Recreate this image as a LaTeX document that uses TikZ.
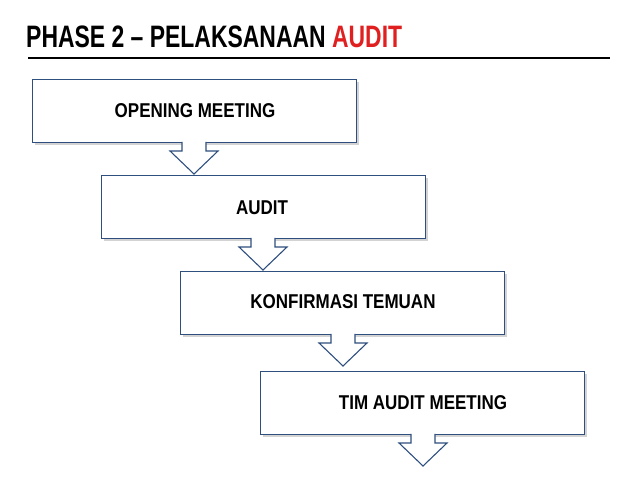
\documentclass[tikz,border=0pt]{standalone}
\usepackage{fontspec}
\setmainfont{Liberation Sans}
\usetikzlibrary{shadows}
\definecolor{bord}{HTML}{2F4F7F}
\definecolor{titred}{HTML}{E02020}
\tikzset{
 stepbox/.style={draw=bord, line width=1.3pt, fill=white, minimum width=324pt, minimum height=63pt, anchor=north west, drop shadow={shadow xshift=2pt, shadow yshift=-2pt, opacity=0.35}},
 boxtext/.style={font=\bfseries\fontsize{20}{24}\selectfont},
 downarrow/.style={draw=bord, line width=1.1pt, fill=white}
}
\newcommand{\darrow}[3]{% x, ytop, name
 \draw[downarrow] (#1-12,#2) -- (#1-12,#2+9) -- (#1-24,#2+9) -- (#1,#2+32) -- (#1+24,#2+9) -- (#1+12,#2+9) -- (#1+12,#2);
}
\begin{document}
\begin{tikzpicture}[x=1pt,y=-1pt]
\useasboundingbox (0,0) rectangle (638,478);
\node[anchor=base west, inner sep=0, font=\bfseries\fontsize{31}{36}\selectfont] (title) at (26,48) {\scalebox{0.74}[1]{PHASE 2 – PELAKSANAAN \textcolor{titred}{AUDIT}}};
\draw[line width=1.5pt] (28,58) -- (610,58);
\node[stepbox] (b1) at (32,79) {};
\node[stepbox] (b2) at (101,175) {};
\node[stepbox] (b3) at (180,271) {};
\node[stepbox] (b4) at (260,371) {};
\node[boxtext] at (195,111) {\scalebox{0.85}[1]{OPENING MEETING}};
\node[boxtext] at (262,208) {\scalebox{0.85}[1]{AUDIT}};
\node[boxtext] at (343,302) {\scalebox{0.85}[1]{KONFIRMASI TEMUAN}};
\node[boxtext] at (423,403) {\scalebox{0.85}[1]{TIM AUDIT MEETING}};
\darrow{194}{142}{a1}
\darrow{263}{238}{a2}
\darrow{343}{334}{a3}
\darrow{423}{434}{a4}
\end{tikzpicture}
\end{document}
